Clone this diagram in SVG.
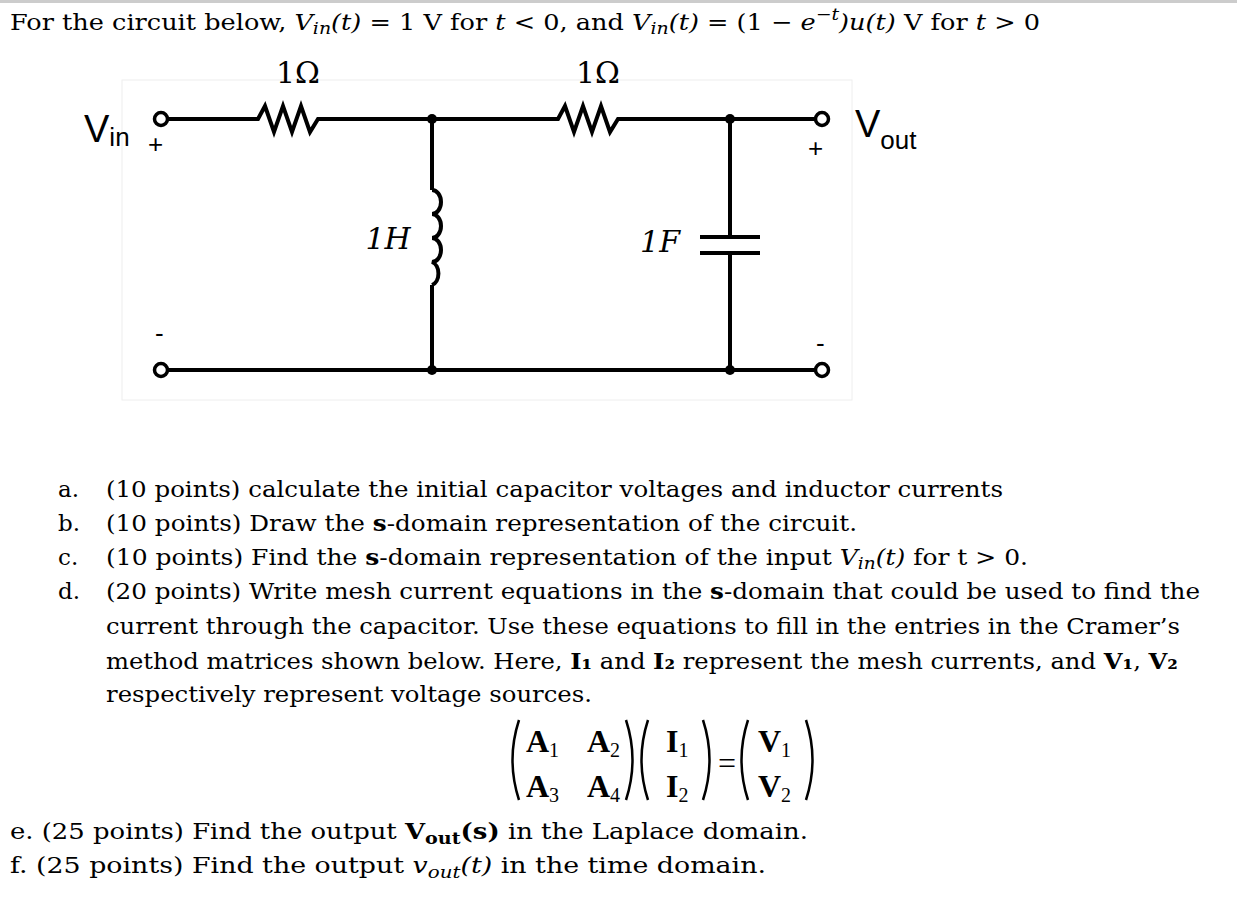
<svg xmlns="http://www.w3.org/2000/svg" width="1237" height="904" viewBox="0 0 1237 904">
<style>
.w{stroke:#000;stroke-width:4;fill:none;stroke-linejoin:miter}
.t{font-family:"DejaVu Serif","Liberation Serif",serif;font-size:23px;fill:#000}
.s{font-family:"Liberation Sans",sans-serif;fill:#000}
.term{fill:#fff;stroke:#000;stroke-width:3.5}
.sub{font-size:17px}
.m{font-family:"Liberation Serif",serif;font-weight:bold;font-size:32px}
.ms{font-size:20px;font-weight:normal}
</style>
<rect width="1237" height="904" fill="#fff"/>
<line x1="0" y1="1.5" x2="1237" y2="1.5" stroke="#ccc" stroke-width="3"/>
<text class="t" x="10" y="30" textLength="1030" lengthAdjust="spacingAndGlyphs">For the circuit below, <tspan font-style="italic">V<tspan class="sub" dy="4">in</tspan><tspan dy="-4">(t)</tspan></tspan> = 1 V for <tspan font-style="italic">t</tspan> &lt; 0, and <tspan font-style="italic">V<tspan class="sub" dy="4">in</tspan><tspan dy="-4">(t)</tspan></tspan> = (1 − <tspan font-style="italic">e<tspan class="sub" dy="-10">−t</tspan><tspan dy="10">)u(t)</tspan></tspan> V for <tspan font-style="italic">t</tspan> &gt; 0</text>
<rect x="122" y="80" width="730" height="320" fill="none" stroke="#eee" stroke-width="1"/>
<g id="connectors">
<path class="w" d="M167,119 H258 L265,106 L274,132 L283,106 L292,132 L301,106 L310,132 L318,119 H558 L565,106 L574,132 L583,106 L592,132 L601,106 L610,132 L618,119 H815"/>
<path class="w" d="M432,119 V190 M432,285 V370"/>
<path class="w" d="M432,190 a9,12 0 0 1 0,24 a9,12 0 0 1 0,24 a9,12 0 0 1 0,24 a9,12 0 0 1 0,23"/>
<path class="w" d="M730,119 V237 M730,253 V370"/>
<path class="w" d="M700,237 H760 M700,253 H760"/>
<path class="w" d="M167,370 H815"/>
</g>
<g id="nodes">
<circle cx="432" cy="119" r="5"/><circle cx="730" cy="119" r="5"/>
<circle cx="432" cy="370" r="5"/><circle cx="730" cy="370" r="5"/>
<circle class="term" cx="161" cy="119" r="6.5"/><circle class="term" cx="161" cy="370" r="6.5"/>
<circle class="term" cx="822" cy="119" r="6.5"/><circle class="term" cx="822" cy="370" r="6.5"/>
</g>
<g id="labels">
<text class="t" x="298" y="83" text-anchor="middle" style="font-size:30px">1Ω</text>
<text class="t" x="598" y="83" text-anchor="middle" style="font-size:30px">1Ω</text>
<text class="t" x="388" y="249" text-anchor="middle" style="font-size:30px;font-style:italic">1H</text>
<text class="t" x="660" y="252" text-anchor="middle" style="font-size:30px;font-style:italic">1F</text>
<text class="s" x="84" y="142" style="font-size:38px">V<tspan style="font-size:26px" dy="4">in</tspan></text>
<text class="s" x="148" y="153" style="font-size:26px">+</text>
<text class="s" x="808" y="157" style="font-size:26px">+</text>
<text class="s" x="855" y="137" style="font-size:38px">V<tspan style="font-size:26px" dy="12">out</tspan></text>
<text class="s" x="155" y="342" style="font-size:26px">-</text>
<text class="s" x="816" y="352" style="font-size:26px">-</text>
</g>
<g id="text">
<text class="t" x="58" y="497">a.</text><text class="t" x="106" y="497" textLength="897" lengthAdjust="spacingAndGlyphs">(10 points) calculate the initial capacitor voltages and inductor currents</text>
<text class="t" x="58" y="531">b.</text><text class="t" x="106" y="531" textLength="751" lengthAdjust="spacingAndGlyphs">(10 points) Draw the <tspan font-weight="bold">s</tspan>-domain representation of the circuit.</text>
<text class="t" x="58" y="565">c.</text><text class="t" x="106" y="565" textLength="922" lengthAdjust="spacingAndGlyphs">(10 points) Find the <tspan font-weight="bold">s</tspan>-domain representation of the input <tspan font-style="italic">V<tspan class="sub" dy="4">in</tspan><tspan dy="-4">(t)</tspan></tspan> for t &gt; 0.</text>
<text class="t" x="58" y="599">d.</text><text class="t" x="106" y="599" textLength="1094" lengthAdjust="spacingAndGlyphs">(20 points) Write mesh current equations in the <tspan font-weight="bold">s</tspan>-domain that could be used to find the</text>
<text class="t" x="106" y="634" textLength="1074" lengthAdjust="spacingAndGlyphs">current through the capacitor. Use these equations to fill in the entries in the Cramer’s</text>
<text class="t" x="106" y="669" textLength="1072" lengthAdjust="spacingAndGlyphs">method matrices shown below. Here, <tspan font-weight="bold">I₁</tspan> and <tspan font-weight="bold">I₂</tspan> represent the mesh currents, and <tspan font-weight="bold">V₁</tspan>, <tspan font-weight="bold">V₂</tspan></text>
<text class="t" x="106" y="702" textLength="486" lengthAdjust="spacingAndGlyphs">respectively represent voltage sources.</text>
<g class="m">
<path d="M519,720 q-13,40 0,80 M626,720 q13,40 0,80 M648,720 q-13,40 0,80 M703,720 q13,40 0,80 M748,720 q-13,40 0,80 M806,720 q13,40 0,80" stroke="#000" stroke-width="2.5" fill="none"/>
<text x="526" y="752">A<tspan class="ms" dy="5">1</tspan></text>
<text x="587" y="752">A<tspan class="ms" dy="5">2</tspan></text>
<text x="526" y="797">A<tspan class="ms" dy="5">3</tspan></text>
<text x="587" y="797">A<tspan class="ms" dy="5">4</tspan></text>
<text x="666" y="752">I<tspan class="ms" dy="5">1</tspan></text>
<text x="666" y="797">I<tspan class="ms" dy="5">2</tspan></text>
<text x="718" y="774" style="font-weight:normal">=</text>
<text x="758" y="752">V<tspan class="ms" dy="5">1</tspan></text>
<text x="758" y="797">V<tspan class="ms" dy="5">2</tspan></text>
</g>
<text class="t" x="10" y="839" textLength="798" lengthAdjust="spacingAndGlyphs">e. (25 points) Find the output <tspan font-weight="bold">V<tspan class="sub" dy="5">out</tspan><tspan dy="-5">(s)</tspan></tspan> in the Laplace domain.</text>
<text class="t" x="10" y="873" textLength="756" lengthAdjust="spacingAndGlyphs">f. (25 points) Find the output <tspan font-style="italic">v<tspan class="sub" dy="5">out</tspan><tspan dy="-5">(t)</tspan></tspan> in the time domain.</text>
</g>
</svg>
